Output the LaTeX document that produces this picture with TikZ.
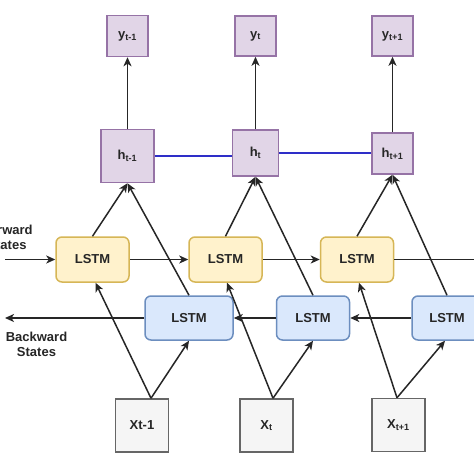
\documentclass[tikz,border=0pt]{standalone}
\usepackage{fontspec}
\setmainfont{Liberation Sans}
\usetikzlibrary{arrows.meta,calc}
\definecolor{pfill}{HTML}{E1D5E7}
\definecolor{pdraw}{HTML}{9673A6}
\definecolor{yfill}{HTML}{FFF2CC}
\definecolor{ydraw}{HTML}{D6B656}
\definecolor{bfill}{HTML}{DAE8FC}
\definecolor{bdraw}{HTML}{6C8EBF}
\definecolor{gfill}{HTML}{F5F5F5}
\definecolor{gdraw}{HTML}{666666}
\definecolor{hline}{HTML}{2E2EC8}
\begin{document}
\begin{tikzpicture}[x=1pt,y=-1pt,
  font=\fontsize{13}{15}\selectfont\bfseries,
  box/.style={draw, line width=1.5pt, inner sep=0pt, align=center, text=black!85},
  pbox/.style={box, fill=pfill, draw=pdraw},
  fbox/.style={box, fill=yfill, draw=ydraw, rounded corners=6pt, minimum width=73pt, minimum height=45pt},
  bbox/.style={box, fill=bfill, draw=bdraw, rounded corners=6pt, minimum height=44pt},
  xbox/.style={box, fill=gfill, draw=gdraw, minimum width=53pt, minimum height=53pt},
  arr/.style={line width=1.5pt, black!85, -{Stealth[length=9pt,width=8pt,inset=2.5pt]}},
  ln/.style={line width=1.5pt, black!85},
  lbl/.style={align=center, text=black!85}
]
\useasboundingbox (0,0) rectangle (474,474);
\fill[white] (0,0) rectangle (474,474);
\clip (0,0) rectangle (474,474);

% output boxes
\node[pbox, minimum width=41pt, minimum height=41pt] (ya) at (127.5,36) {y\textsubscript{t-1}};
\node[pbox, minimum width=41pt, minimum height=40pt] (yb) at (255.5,36) {y\textsubscript{t}};
\node[pbox, minimum width=41pt, minimum height=40pt] (yc) at (392.5,36) {y\textsubscript{t+1}};
% hidden boxes
\node[pbox, minimum width=53pt, minimum height=53pt] (ha) at (127.5,156) {h\textsubscript{t-1}};
\node[pbox, minimum width=46pt, minimum height=46pt] (hb) at (255.5,153) {h\textsubscript{t}};
\node[pbox, minimum width=41pt, minimum height=41pt] (hc) at (392.5,153.5) {h\textsubscript{t+1}};
% forward LSTMs
\node[fbox] (fa) at (92.5,259.5) {LSTM};
\node[fbox] (fb) at (225.5,259.5) {LSTM};
\node[fbox] (fc) at (357,259.5) {LSTM};
% backward LSTMs
\node[bbox, minimum width=88pt] (ba) at (189,318) {LSTM};
\node[bbox, minimum width=73pt] (bb) at (313,318) {LSTM};
\node[bbox, minimum width=70pt] (bc) at (447,318) {LSTM};
% inputs
\node[xbox] (xa) at (142,425.5) {Xt-1};
\node[xbox] (xb) at (266.5,425.5) {X\textsubscript{t}};
\node[xbox] (xc) at (398.5,425) {X\textsubscript{t+1}};

% side labels
\node[lbl] (fs) at (7,237.5) {Forward\\States};
\node[lbl] (bs) at (36.5,344) {Backward\\States};

\coordinate (lin) at (5,259.5);
\coordinate (rout) at (474,259.5);
\coordinate (lout) at (5,318);
\coordinate (pa) at ($(xa.north)+(9,0)$);
\coordinate (pb) at ($(xb.north)+(6.5,0)$);
\coordinate (pc) at ($(xc.north)+(-1.5,0)$);

% forward chain
\draw[arr] (lin) -- (fa.west);
\draw[arr] (fa.east) -- (fb.west);
\draw[arr] (fb.east) -- (fc.west);
\draw[ln] (fc.east) -- (rout);
% backward chain
\draw[arr] (bc.west) -- (bb.east);
\draw[arr] (bb.west) -- (ba.east);
\draw[arr] (ba.west) -- (lout);
% outputs
\draw[arr] (ha.north) -- (ya.south);
\draw[arr] (hb.north) -- (yb.south);
\draw[arr] (hc.north) -- (yc.south);
% hidden links
\draw[hline, line width=1.6pt] (ha.east) -- (ha.east -| hb.west);
\draw[hline, line width=1.6pt] (hb.east) -- (hb.east -| hc.west);
% LSTMs to hidden
\draw[arr] (fa.north) -- (ha.south);
\draw[arr] (ba.north) -- (ha.south);
\draw[arr] (fb.north) -- (hb.south);
\draw[arr] (bb.north) -- (hb.south);
\draw[arr] (fc.north) -- (hc.south);
\draw[arr] (bc.north) -- (hc.south);
% inputs to LSTMs
\draw[arr] (pa) -- ($(fa.south)+(3,0)$);
\draw[arr] (pa) -- (ba.south);
\draw[arr] (pb) -- ($(fb.south)+(1.5,0)$);
\draw[arr] (pb) -- (bb.south);
\draw[arr] (pc) -- ($(fc.south)+(2,0)$);
\draw[arr] (pc) -- ($(bc.south)+(-2,0)$);
\end{tikzpicture}
\end{document}
